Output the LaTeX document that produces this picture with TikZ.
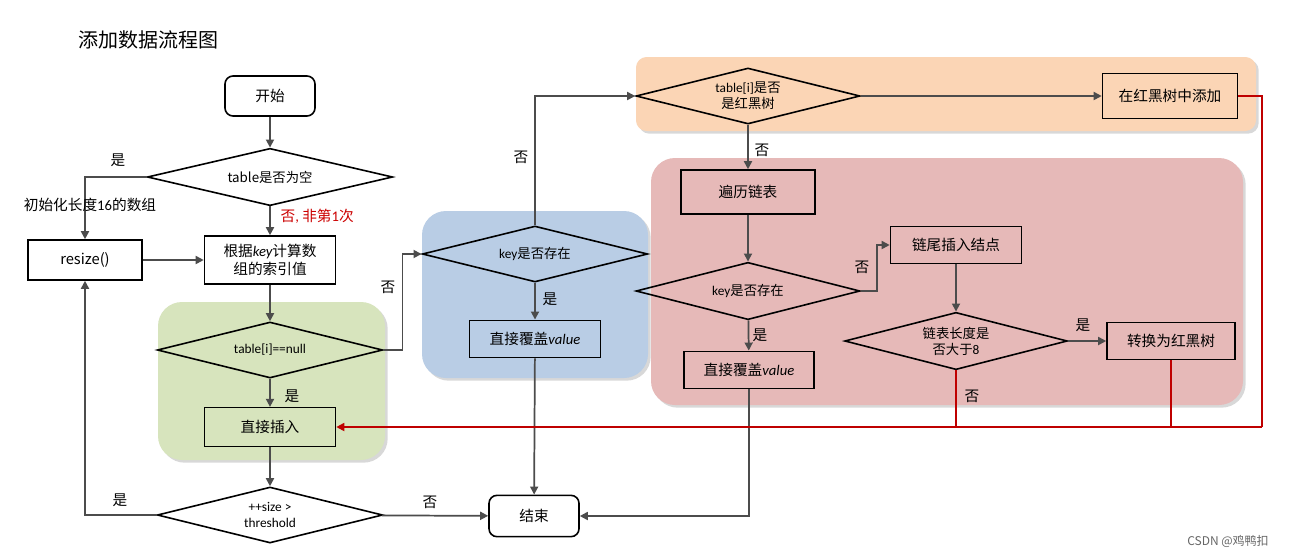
\documentclass[tikz,border=0pt]{standalone}
\usepackage{fontspec}
\setmainfont{Carlito}
\newfontfamily\cjk{Noto Sans CJK SC}
\usetikzlibrary{shapes.geometric,arrows.meta,shadows}
\begin{document}
\begin{tikzpicture}[x=0.75pt,y=-0.75pt,
  box/.style={draw,line width=1.2pt,minimum width=#1*0.75pt,inner sep=1pt,align=center,font=\cjk\fontsize{11}{13}\selectfont},
  box/.default=130,
  dia/.style={draw,line width=1.2pt,diamond,aspect=4,inner sep=1pt,align=center,font=\cjk\fontsize{10}{12}\selectfont},
  con/.style={draw=black!70,line width=1.3pt,-{Triangle[length=6pt,width=6pt]}},
  red/.style={draw=red!75!black,line width=1.3pt},
  lab/.style={font=\cjk\fontsize{11}{13}\selectfont},
  bg/.style={rounded corners=18pt,drop shadow={opacity=0.3,shadow xshift=2pt,shadow yshift=-2pt}}]
\useasboundingbox (0,0) rectangle (1292,558);
\fill[white] (0,0) rectangle (1292,558);
% backgrounds
\fill[bg,fill=green!50!olive!20!white,fill={rgb,255:red,215;green,228;blue,189}] (158,302) rectangle (385,460);
\fill[bg,fill={rgb,255:red,185;green,205;blue,229}] (422,211) rectangle (648,378);
\fill[bg,fill={rgb,255:red,251;green,213;blue,181},rounded corners=8pt] (636,57) rectangle (1256,131);
\fill[bg,fill={rgb,255:red,230;green,185;blue,184}] (651,158) rectangle (1243,405);
\node[font=\cjk\fontsize{15}{18}\selectfont] (title) at (148,40) {添加数据流程图};
% nodes
\node[box=90,minimum height=30pt,rounded corners=6pt] (start) at (270,96) {开始};
\node[dia,minimum width=184pt,minimum height=43pt] (empty) at (270,177) {\itshape table{\cjk\upshape 是否为空}};
\node[box=114,minimum height=30pt] (resize) at (85,260) {\itshape resize()};
\node[box=131,minimum height=36pt] (index) at (270,260) {根据{\fontspec{Carlito}\itshape key}计算数\\组的索引值};
\node[dia,minimum width=169pt,minimum height=42pt] (null) at (270,350) {\fontspec{Carlito}table[i]==null};
\node[box=131,minimum height=29pt] (insert) at (270,427) {直接插入};
\node[dia,minimum width=169pt,minimum height=42pt] (size) at (270,515) {\fontspec{Carlito}++size >\\\fontspec{Carlito}threshold};
\node[box=90,minimum height=31pt,rounded corners=6pt] (end) at (534,516) {结束};
\node[dia,minimum width=169pt,minimum height=42pt] (key1) at (535,254) {\fontspec{Carlito}key{\cjk 是否存在}};
\node[box=131,minimum height=28pt] (cover1) at (535,339) {直接覆盖{\fontspec{Carlito}\itshape value}};
\node[dia,minimum width=168pt,minimum height=42pt] (rb) at (748,96) {\fontspec{Carlito}table[i]{\cjk 是否}\\是红黑树};
\node[box=135,minimum height=34pt] (rbadd) at (1170,96) {在红黑树中添加};
\node[box=134,minimum height=33pt] (walk) at (748,192) {遍历链表};
\node[dia,minimum width=168pt,minimum height=43pt] (key2) at (748,291) {\fontspec{Carlito}key{\cjk 是否存在}};
\node[box=130,minimum height=28pt] (cover2) at (749,370) {直接覆盖{\fontspec{Carlito}\itshape value}};
\node[box=131,minimum height=28pt] (tail) at (956,245) {链尾插入结点};
\node[dia,minimum width=167pt,minimum height=43pt] (len) at (956,341) {链表长度是\\否大于{\fontspec{Carlito}8}};
\node[box=128,minimum height=28pt] (tree) at (1171,341) {转换为红黑树};
% connectors
\draw[con] (start) -- (empty);
\draw[con] (empty) -- (index);
\draw[con] (empty.west) -| (resize.north);
\draw[con] (resize) -- (index);
\draw[con] (index) -- (null);
\draw[con] (null) -- (insert);
\draw[con] (insert) -- (size);
\draw[con] (size.west) -| (resize.south);
\draw[con] (size) -- (end);
\draw[con] (null.east) -- ++(19,0) |- (key1.west);
\draw[con] (key1) -- (cover1);
\draw[con] (cover1) -- (end);
\draw[con] (key1.north) |- (rb.west);
\draw[con] (rb) -- (rbadd);
\draw[con] (rb) -- (walk);
\draw[con] (walk) -- (key2);
\draw[con] (key2) -- (cover2);
\draw[con] (key2.east) -- ++(16,0) |- (tail.west);
\draw[con] (tail) -- (len);
\draw[con] (len) -- (tree);
\draw[con] (cover2.south) |- (end.east);
\coordinate (j) at (1262,427);
\draw[red] (rbadd.east) -| (j);
\draw[red] (len.south) -- (len.south |- j);
\draw[red] (tree.south) -- (tree.south |- j);
\draw[red,-{Triangle[length=6pt,width=6pt]}] (j) -- (insert.east);
% labels
\node[lab] at (118,160) {是};
\node[lab] at (90,205) {初始化长度{\fontspec{Carlito}16}的数组};
\node[lab,text=red!80!black,anchor=west] at (276,216) {否{\fontspec{Carlito},} 非第{\fontspec{Carlito}1}次};
\node[lab] at (388,287) {否};
\node[lab] at (292,396) {是};
\node[lab] at (120,500) {是};
\node[lab] at (430,502) {否};
\node[lab] at (550,299) {是};
\node[lab] at (521,157) {否};
\node[lab] at (762,150) {否};
\node[lab] at (862,267) {否};
\node[lab] at (760,335) {是};
\node[lab] at (1083,325) {是};
\node[lab] at (972,396) {否};
\node[font=\cjk\fontsize{9}{11}\selectfont,text=black!60] at (1228,541) {CSDN @鸡鸭扣};
\end{tikzpicture}
\end{document}
